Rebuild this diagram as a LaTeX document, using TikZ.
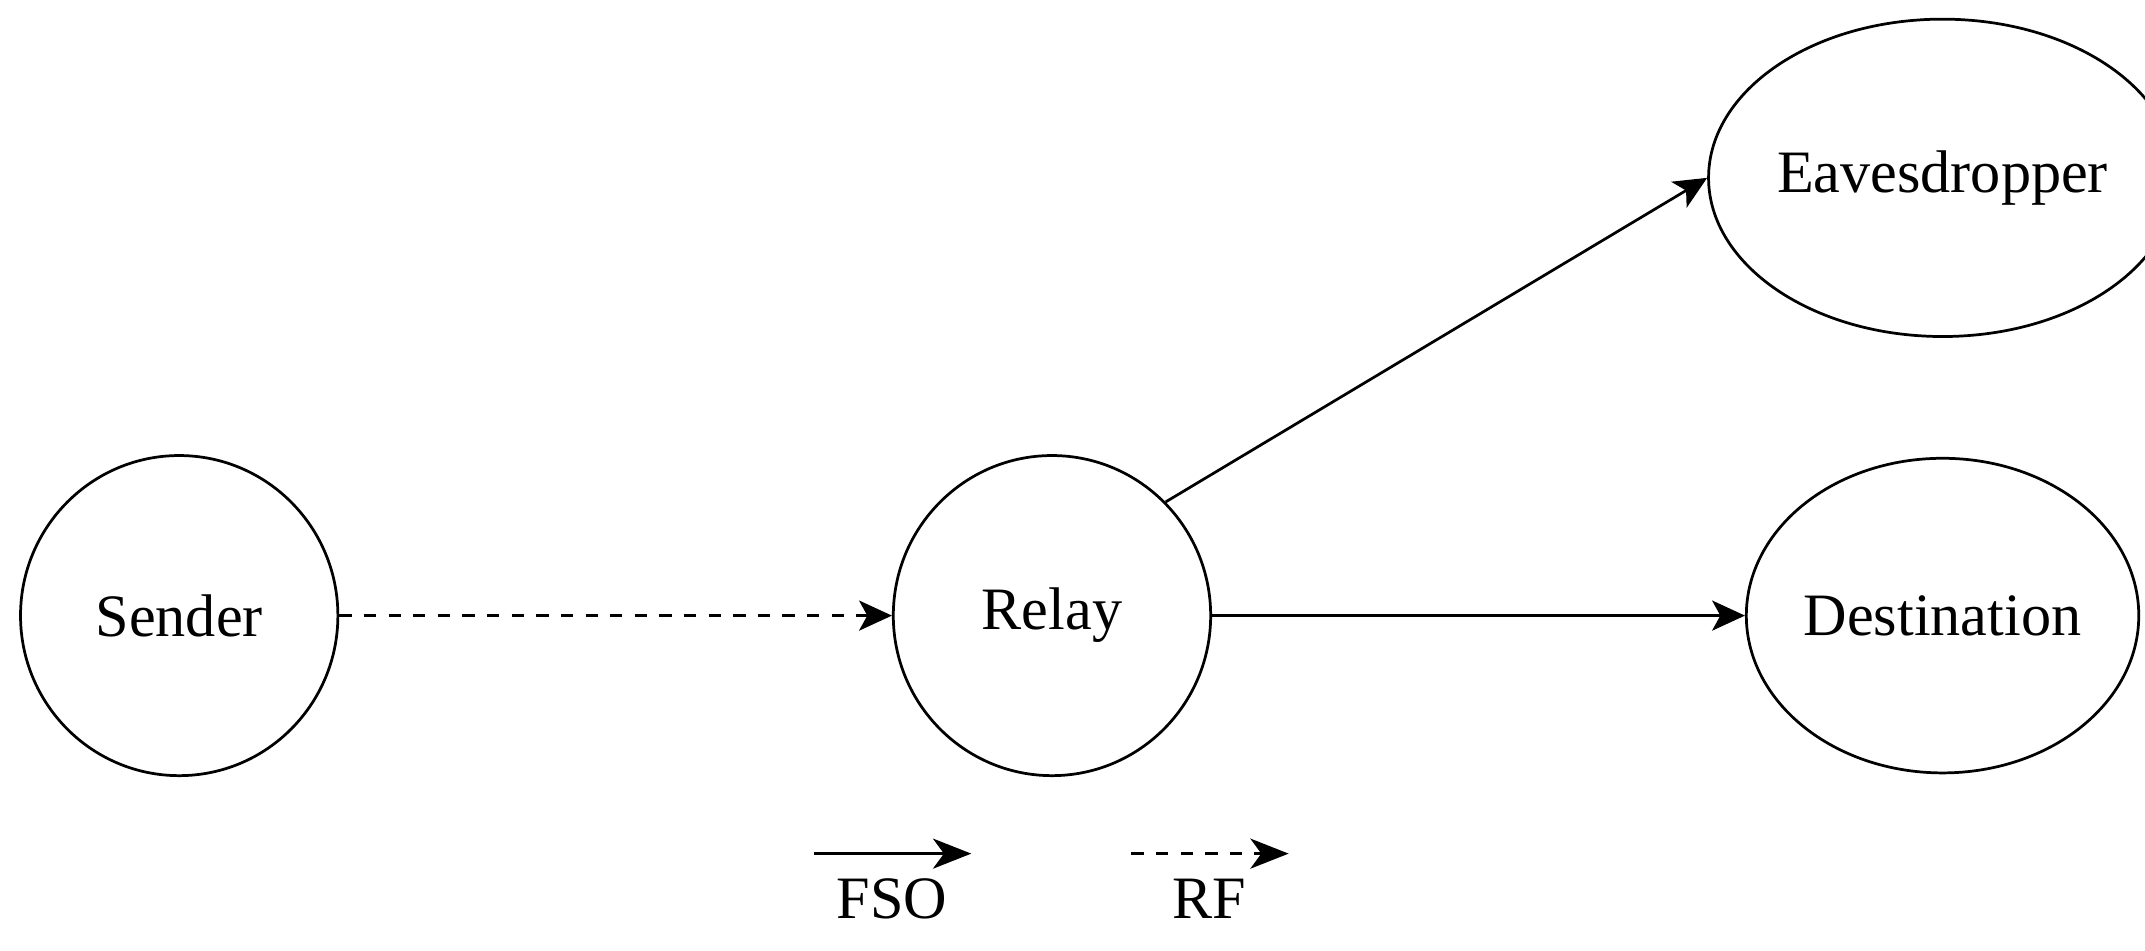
\documentclass[tikz,border=0pt]{standalone}
\usepackage{fontspec}
\setmainfont{Liberation Serif}
\usetikzlibrary{shapes.geometric,arrows.meta}
\begin{document}
\begin{tikzpicture}[x=1pt,y=-1pt,
  every node/.style={font=\fontsize{44}{48}\selectfont},
  station/.style={ellipse,draw,line width=2pt,inner sep=0pt},
  link/.style={line width=2pt,-{Stealth[length=24pt,width=22pt,inset=6pt]}},
  rflink/.style={link,dash pattern=on 9pt off 9pt},
  key/.style={line width=2pt,-{Stealth[length=28pt,width=22pt,inset=8pt]}}]
\useasboundingbox (0,0) rectangle (1568,695);
\node[station,minimum width=232pt,minimum height=234pt] (s) at (131,450) {Sender};
\node[station,minimum width=232pt,minimum height=234pt] (r) at (769,450) {Relay};
\node[station,minimum width=260pt,minimum height=230pt] (d) at (1420,450) {Destination};
\node[station,minimum width=260pt,minimum height=232pt] (e) at (1420,130) {Eavesdropper};
\draw[rflink] (s) -- (r);
\draw[link] (r) -- (d);
\draw[link] (r.45) -- (e.west);
\coordinate (f1) at (595,624);
\coordinate (f2) at (710,624);
\coordinate (g1) at (827,624);
\coordinate (g2) at (942,624);
\draw[key] (f1) -- (f2);
\draw[key,dash pattern=on 9pt off 9pt] (g1) -- (g2);
\node (fso) at (652,657) {FSO};
\node (rf) at (884,657) {RF};
\end{tikzpicture}
\end{document}
